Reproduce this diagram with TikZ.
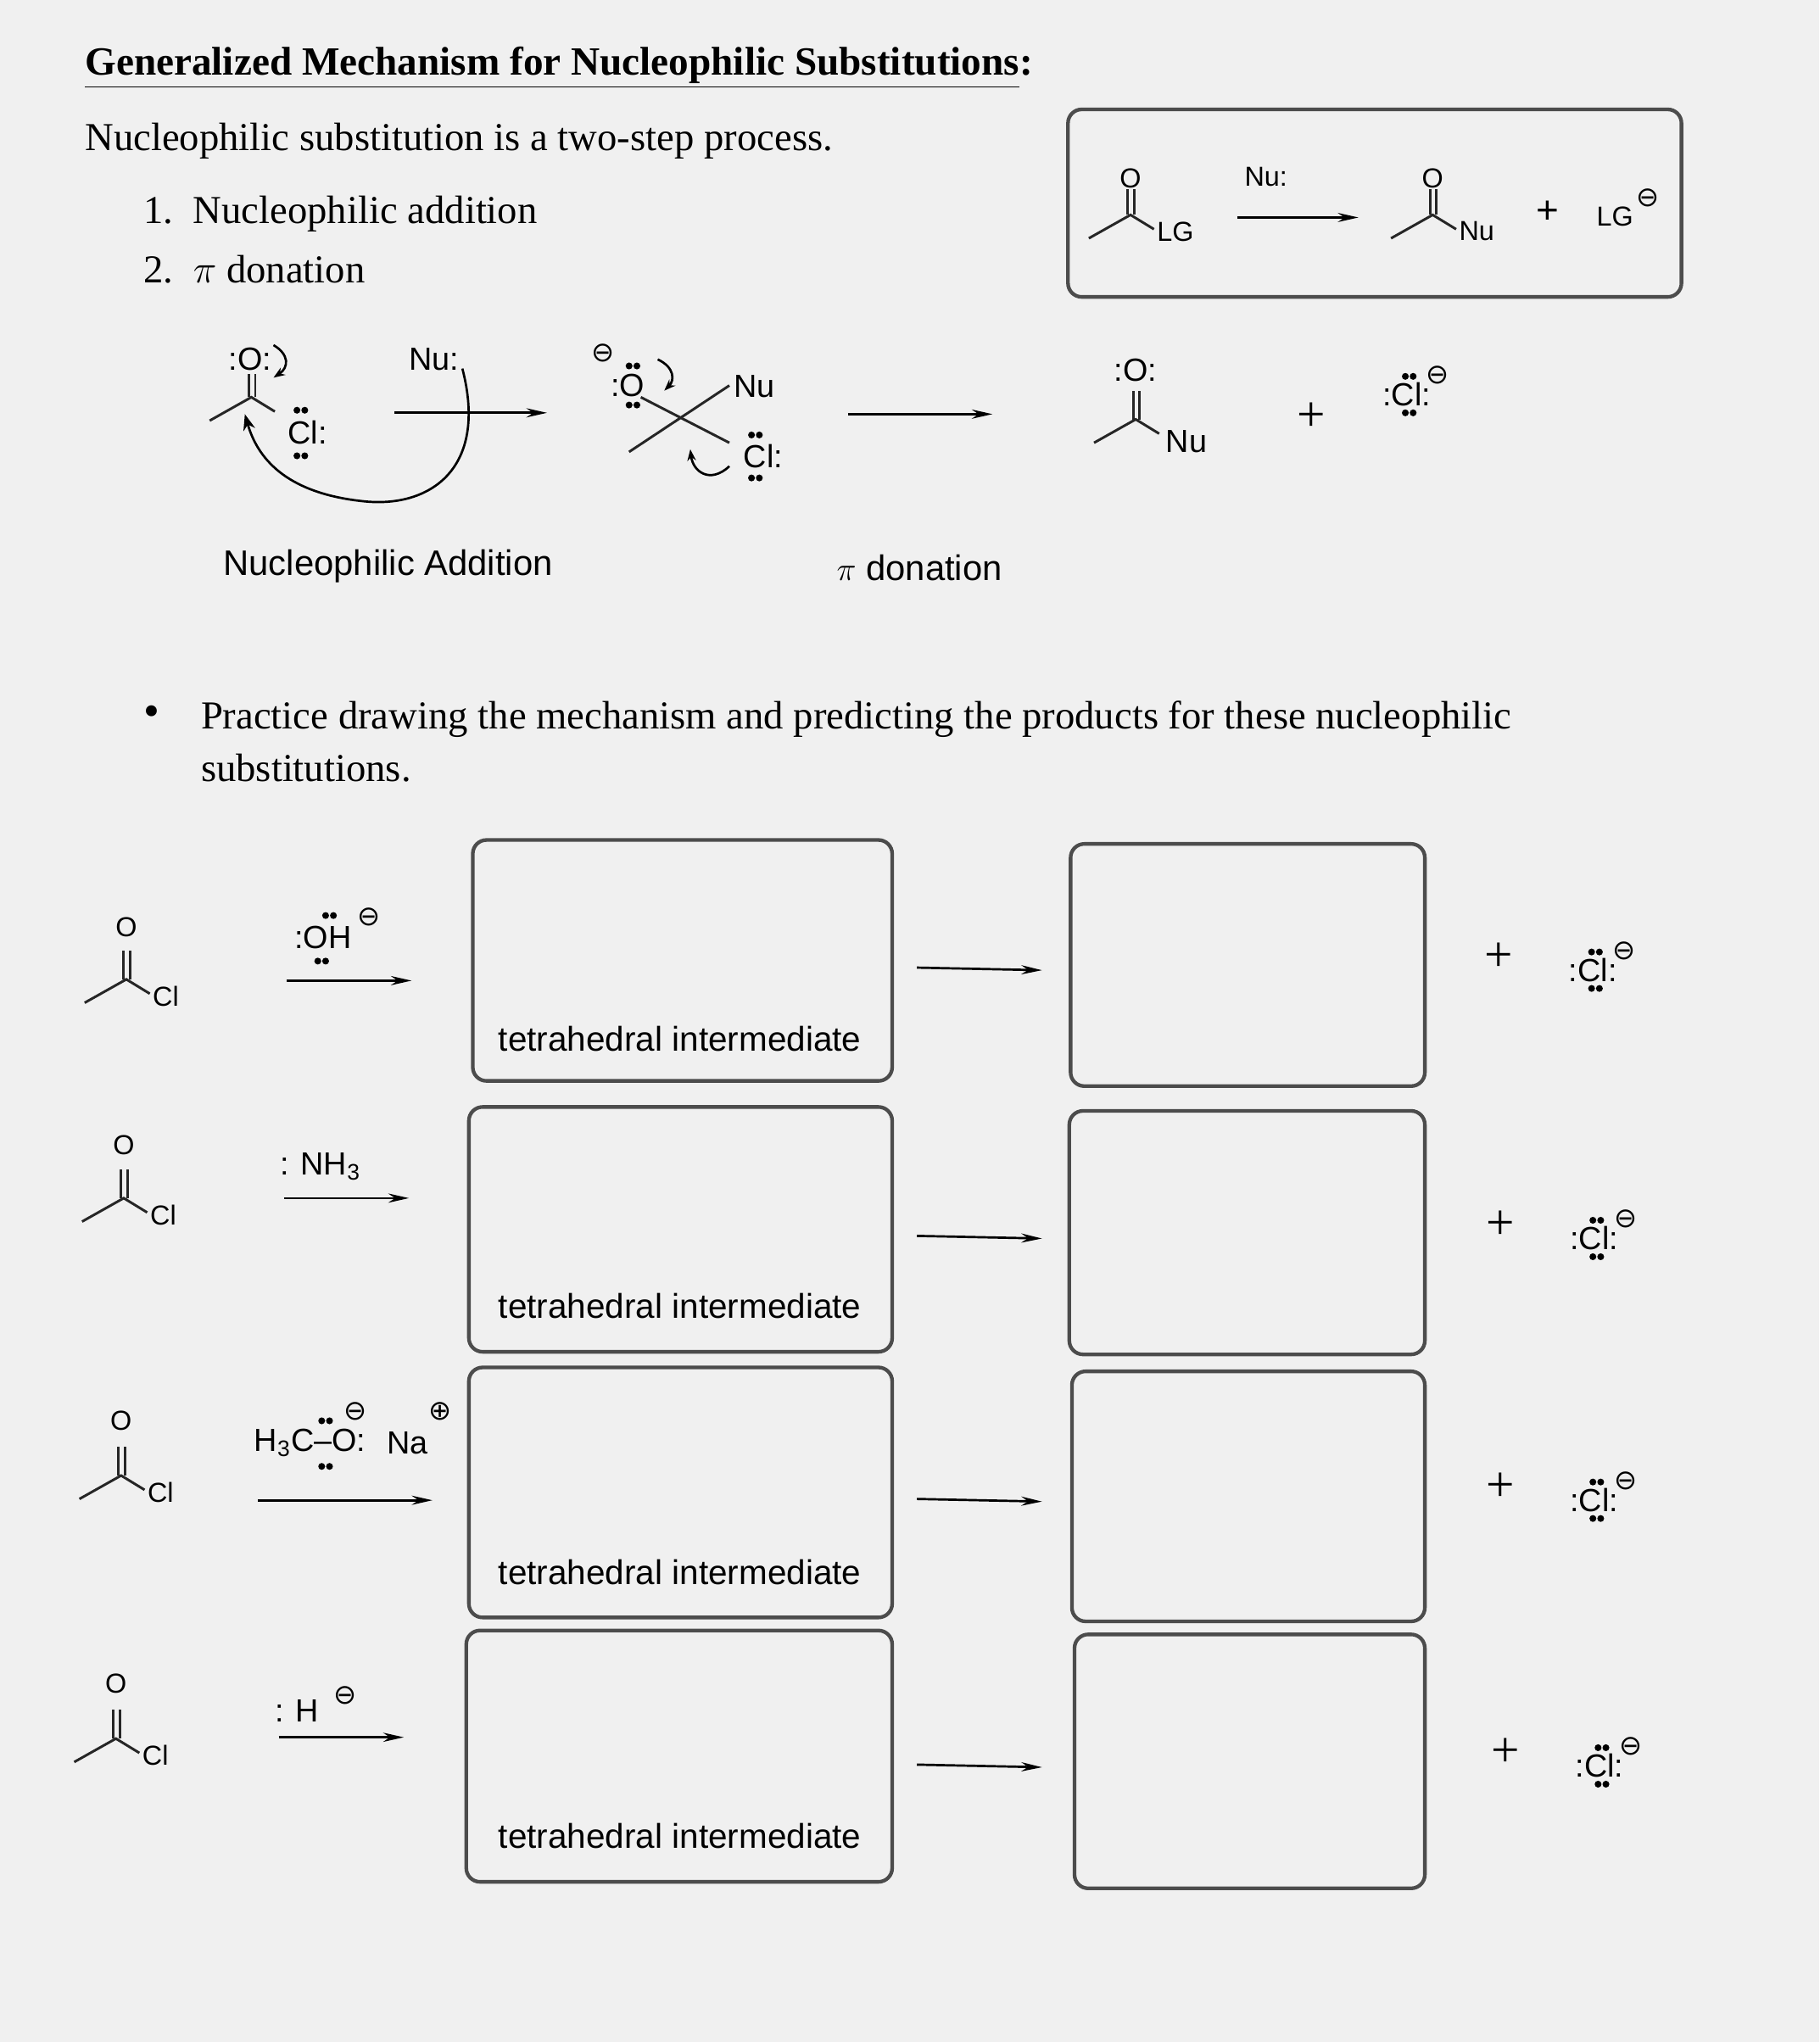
\documentclass[tikz,border=0pt]{standalone}
\usepackage{fontspec}
\setmainfont{Liberation Serif}
\newfontfamily\arial{Liberation Sans}
\newfontfamily\dvs{DejaVu Sans}
\usetikzlibrary{arrows.meta}
\begin{document}
\begin{tikzpicture}[x=0.02cm,y=-0.02cm,
  bond/.style={line width=1.1pt,black!85},
  rxn/.style={line width=1pt,-{Stealth[length=9pt,width=4pt]}},
  ansbox/.style={draw=black!70,line width=1.6pt,rounded corners=6pt},
  lab/.style={font=\arial\fontsize{14}{16}\selectfont,inner sep=0pt},
  small/.style={font=\arial\fontsize{12}{14}\selectfont,inner sep=0pt},
  serif/.style={font=\fontsize{17.3}{20}\selectfont,inner sep=0pt,anchor=west},
  chg/.style={font=\dvs\fontsize{12}{14}\selectfont,inner sep=0pt},
  lp/.style={circle,fill=black,inner sep=0pt,minimum size=3pt}]
\fill[black!6] (0,0) rectangle (1397,1568);
\useasboundingbox (0,0) rectangle (1397,1568);
\newcommand{\acyl}[5]{% x y substituent name bondlength
  \draw[bond] (#1-32,#2+18) -- (#1,#2) -- (#1+18,#2+11);
  \draw[bond] (#1-2,#2) -- (#1-2,#2-#5);
  \draw[bond] (#1+3,#2) -- (#1+3,#2-#5);
  \node[small,anchor=north west] (#4) at (#1+20,#2+5) {#3};}
\newcommand{\pr}[2]{\node[lp] at (#1-3,#2) {};\node[lp] at (#1+3,#2) {};}
\newcommand{\clion}[3]{% x y name
  \node[lab] (#3) at (#1,#2) {:Cl:};
  \pr{#1+2}{#2-14}\pr{#1+2}{#2+14}
  \node[chg] at (#1+24,#2-15) {⊖};}
% header
\node[serif,font=\bfseries\fontsize{17.5}{20}\selectfont] (title) at (65,52) {\underline{Generalized Mechanism for Nucleophilic Substitutions}:};
\node[serif] (intro) at (65,108) {Nucleophilic substitution is a two-step process.};
\node[serif] (s1) at (110,164) {1.\ \ Nucleophilic addition};
\node[serif] (s2) at (110,207) {2.\ \ $\pi$ donation};
% top box
\draw[ansbox] (820,84) rectangle (1291,228);
\acyl{868}{165}{LG}{lg}{20}
\node[small] (o1) at (868,137) {O};
\node[small] (nu1) at (972,136) {Nu:};
\draw[rxn] (950,167) -- (1043,167);
\acyl{1100}{165}{Nu}{nu2}{20}
\node[small] (o2) at (1100,137) {O};
\node[lab,font=\arial\fontsize{17}{17}\selectfont] (p1) at (1188,163) {+};
\node[small] (lgm) at (1240,166) {LG};
\node[chg] (lgc) at (1265,152) {⊖};
% mechanism
\acyl{193}{305}{}{a0}{18}
\node[lab] (oa) at (192,276) {:O:};
\node[lab] (cla) at (236,332) {Cl:};
\pr{231}{315}\pr{231}{350}
\node[lab] (nua) at (333,276) {Nu:};
\draw[line width=1pt,-{Stealth[length=7pt]}] (355,283) .. controls (375,360) and (330,390) .. (280,385) .. controls (230,380) and (200,360) .. (188,318);
\draw[line width=1pt,-{Stealth[length=5pt]}] (210,265) .. controls (222,272) and (222,282) .. (210,290);
\draw[rxn] (303,317) -- (420,317);
\draw[bond] (483,347) -- (560,296);
\draw[bond] (492,305) -- (560,340);
\node[lab] (ob) at (482,296) {:O};
\node[chg] at (463,271) {⊖};\pr{486}{281}\pr{486}{311}
\draw[line width=1pt,-{Stealth[length=5pt]}] (505,276) .. controls (518,282) and (518,292) .. (510,300);
\node[lab] (nub) at (579,297) {Nu};
\node[lab] (clb) at (586,350) {Cl:};
\pr{580}{334}\pr{580}{367}
\draw[line width=1pt,-{Stealth[length=5pt]}] (560,358) .. controls (545,372) and (532,362) .. (530,345);
\draw[rxn] (651,318) -- (762,318);
\acyl{872}{322}{}{c0}{22}
\node[lab] (oc) at (872,284) {:O:};
\node[lab] (nuc) at (911,339) {Nu};
\node[lab,font=\fontsize{22}{24}\selectfont] (p2) at (1007,320) {+};
\clion{1080}{303}{clc}
\node[lab,font=\arial\fontsize{15.5}{17}\selectfont] (la) at (298,435) {Nucleophilic Addition};
\node[lab,font=\arial\fontsize{15.5}{17}\selectfont] (lb) at (706,436) {$\pi$ donation};
% practice
\node[serif,font=\fontsize{20}{20}\selectfont] (bul) at (110,550) {•};
\node[serif,align=left,anchor=north west] (prac) at (154,538) {Practice drawing the mechanism and predicting the products for these nucleophilic\\[3pt]substitutions.};
% rows
\foreach \i/\y/\bx/\by/\cx/\cy/\ty in {1/645/363/830/822/834/798,2/850/360/1038/821/1040/1003,3/1050/360/1242/823/1245/1207,4/1252/358/1445/825/1450/1410}{
  \draw[ansbox] (\bx,\y) rectangle (685,\by);
  \draw[ansbox] (\cx,\y+3) rectangle (1094,\cy);
  \node[lab,font=\arial\fontsize{15}{17}\selectfont] (ti\i) at (522,\ty) {tetrahedral intermediate};
}
\acyl{97}{752}{Cl}{r1}{22}\node[small] at (97,712) {O};
\acyl{95}{920}{Cl}{r2}{22}\node[small] at (95,879) {O};
\acyl{93}{1133}{Cl}{r3}{22}\node[small] at (93,1091) {O};
\acyl{89}{1335}{Cl}{r4}{22}\node[small] at (89,1293) {O};
\node[lab] (oh) at (248,720) {:OH};\pr{253}{703}\pr{247}{738}\node[chg] at (283,704) {⊖};
\draw[rxn] (220,753) -- (316,753);
\node[lab] (nh3) at (246,896) {: NH\textsubscript{3}};
\draw[rxn] (218,920) -- (314,920);
\node[lab] (meo) at (238,1108) {H\textsubscript{3}C–O:};\pr{250}{1091}\pr{250}{1126}\node[chg] at (273,1084) {⊖};
\node[lab] (na) at (313,1108) {Na};\node[chg] at (338,1084) {⊕};
\draw[rxn] (198,1152) -- (332,1152);
\node[lab] (h) at (228,1314) {: H};\node[chg] at (265,1302) {⊖};
\draw[rxn] (214,1334) -- (310,1334);
\foreach \y in {743,949,1151,1355}{\draw[rxn] (704,\y) -- (800,\y+2);}
\foreach \x/\y in {1151/735,1152/941,1152/1142,1156/1346}{
  \node[lab,font=\fontsize{22}{24}\selectfont] at (\x,\y) {+};
  \clion{\x+72}{\y+10}{cl}}
\end{tikzpicture}
\end{document}
